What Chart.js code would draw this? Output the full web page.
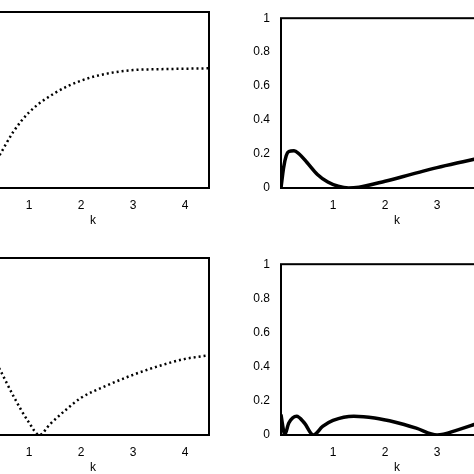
<!DOCTYPE html>
<html><head><meta charset="utf-8">
<script src="https://cdn.jsdelivr.net/npm/chart.js@4/dist/chart.umd.min.js"></script>
<style>html,body{margin:0;width:474px;height:474px;overflow:hidden;background:#fff;position:relative}
.c{position:absolute}</style></head><body>
<div class="c" style="left:-63px;top:8px;width:274px;height:220px"><canvas id="c1"></canvas></div>
<div class="c" style="left:241px;top:8px;width:274px;height:220px"><canvas id="c2"></canvas></div>
<div class="c" style="left:-63px;top:254px;width:274px;height:221px"><canvas id="c3"></canvas></div>
<div class="c" style="left:241px;top:254px;width:274px;height:221px"><canvas id="c4"></canvas></div>
<script>
const xTicks=[1,2,3,4];
const yTicks=[0,0.2,0.4,0.6,0.8,1];
const k1=[0,0.2,0.44,0.7,1,1.5,2,2.5,3,3.5,4.46];
const v1=[0,0.08,0.19,0.32,0.43,0.54,0.61,0.65,0.67,0.675,0.68];
const k2=[0,0.05,0.1,0.15,0.25,0.35,0.5,0.7,0.9,1.1,1.3,1.5,2,2.5,3,3.5,4.46];
const v2=[0,0.12,0.19,0.215,0.22,0.2,0.15,0.08,0.035,0.01,0,0.005,0.04,0.08,0.12,0.155,0.22];
const k3=[0,0.2,0.44,0.7,1,1.2,1.4,1.7,2,2.5,3,3.5,4,4.46];
const v3=[0.6,0.5,0.37,0.22,0.07,0,0.06,0.14,0.21,0.28,0.34,0.39,0.43,0.45];
const k4=[0,0.03,0.07,0.15,0.3,0.45,0.62,0.8,1,1.4,1.8,2.2,2.6,3,3.4,3.7,4.46];
const v4=[0.12,0.06,0,0.07,0.11,0.07,0,0.05,0.085,0.11,0.1,0.075,0.04,0,0.03,0.06,0.13];
const box={id:'box',afterDraw(c){const a=c.chartArea,x=c.ctx;x.save();x.strokeStyle='#000';x.lineWidth=2;x.strokeRect(a.left,a.top,a.right-a.left,a.bottom-a.top);x.restore();}};
function mk(id,ks,vs,dotted,showY){
 new Chart(document.getElementById(id),{type:'line',
  data:{datasets:[{data:ks.map((k,i)=>({x:k,y:vs[i]})),borderColor:'#000',borderWidth:dotted?2.5:3.5,borderDash:dotted?[2,3]:[],pointRadius:0,cubicInterpolationMode:'monotone',fill:false}]},
  options:{responsive:true,maintainAspectRatio:false,animation:false,layout:{padding:{top:4,right:2}},
   plugins:{legend:{display:false},tooltip:{enabled:false}},
   scales:{
    x:{type:'linear',min:0,max:4.46,afterBuildTicks:s=>{s.ticks=xTicks.map(v=>({value:v}))},afterFit:s=>{s.height=40},
       grid:{display:false},border:{display:false},ticks:{color:'#000',font:{family:'Liberation Sans',size:12},maxRotation:0,padding:2},
       title:{display:true,text:'k',color:'#000',font:{family:'Liberation Sans',size:12},padding:0}},
    y:{min:0,max:1,afterBuildTicks:s=>{s.ticks=yTicks.map(v=>({value:v}))},afterFit:s=>{s.width=40},
       grid:{display:false},border:{display:false},
       ticks:{display:showY,color:'#000',font:{family:'Liberation Sans',size:12},padding:3,callback:v=>String(Math.round(v*10)/10)}}
   }},plugins:[box]});
}
mk('c1',k1,v1,true,false);
mk('c2',k2,v2,false,true);
mk('c3',k3,v3,true,false);
mk('c4',k4,v4,false,true);
</script></body></html>
